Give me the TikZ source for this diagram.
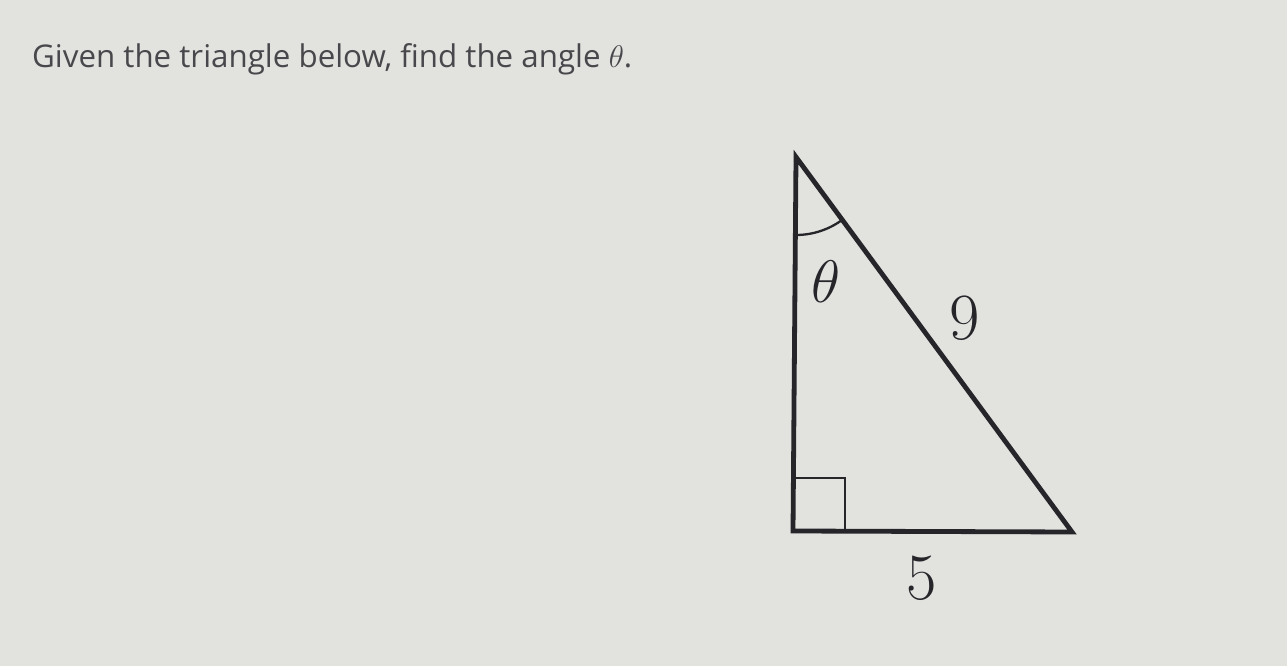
\RequirePackage{fix-cm}
\documentclass[tikz,border=0pt]{standalone}
\usepackage{fontspec}
\setmainfont{Open Sans}
\usetikzlibrary{positioning,calc}
\definecolor{screen}{RGB}{226,227,223}
\definecolor{ink}{RGB}{38,37,42}
\definecolor{prose}{RGB}{72,72,76}
\tikzstyle{side}=[line width=4.8pt, draw=ink, line join=miter, line cap=rect]
\tikzstyle{rtbox}=[line width=2.8pt, draw=ink]
\tikzstyle{anglearc}=[line width=2.3pt, draw=ink]
\tikzstyle{lbl}=[font=\fontsize{66}{70}\selectfont, text=ink, inner sep=0pt]

\begin{document}
\begin{tikzpicture}[x=1pt,y=1pt]
\fill[screen] (0,0) rectangle (1287,666);
\useasboundingbox (0,0) rectangle (1287,666);

\node (QUESTION) [anchor=base west, inner sep=0pt, text=prose,
 font=\fontsize{31.3}{35}\selectfont] at (32,598) {Given the triangle below, find the angle $\theta$.};

% corners of the triangle
\coordinate (TOP) at (796,509);
\coordinate (BL) at (793,135);
\coordinate (BR) at (1072,134);

\draw[rtbox] ($(BL)+(0,53)$) -| ($(BL)+(52,0)$);
\draw[anglearc] ($(TOP)+(0,-78)$) arc[start angle=-90, end angle=-53.6, radius=78];
\draw[side] (TOP) -- (BL) -- (BR) -- cycle;

\node (THETA) [lbl, font=\fontsize{60}{64}\selectfont] at (826,384) {$\theta$};
\node (HYP) [lbl] at (965,348) {$9$};
\node (BASE) [lbl] at (922,88) {$5$};

\end{tikzpicture}
\end{document}
